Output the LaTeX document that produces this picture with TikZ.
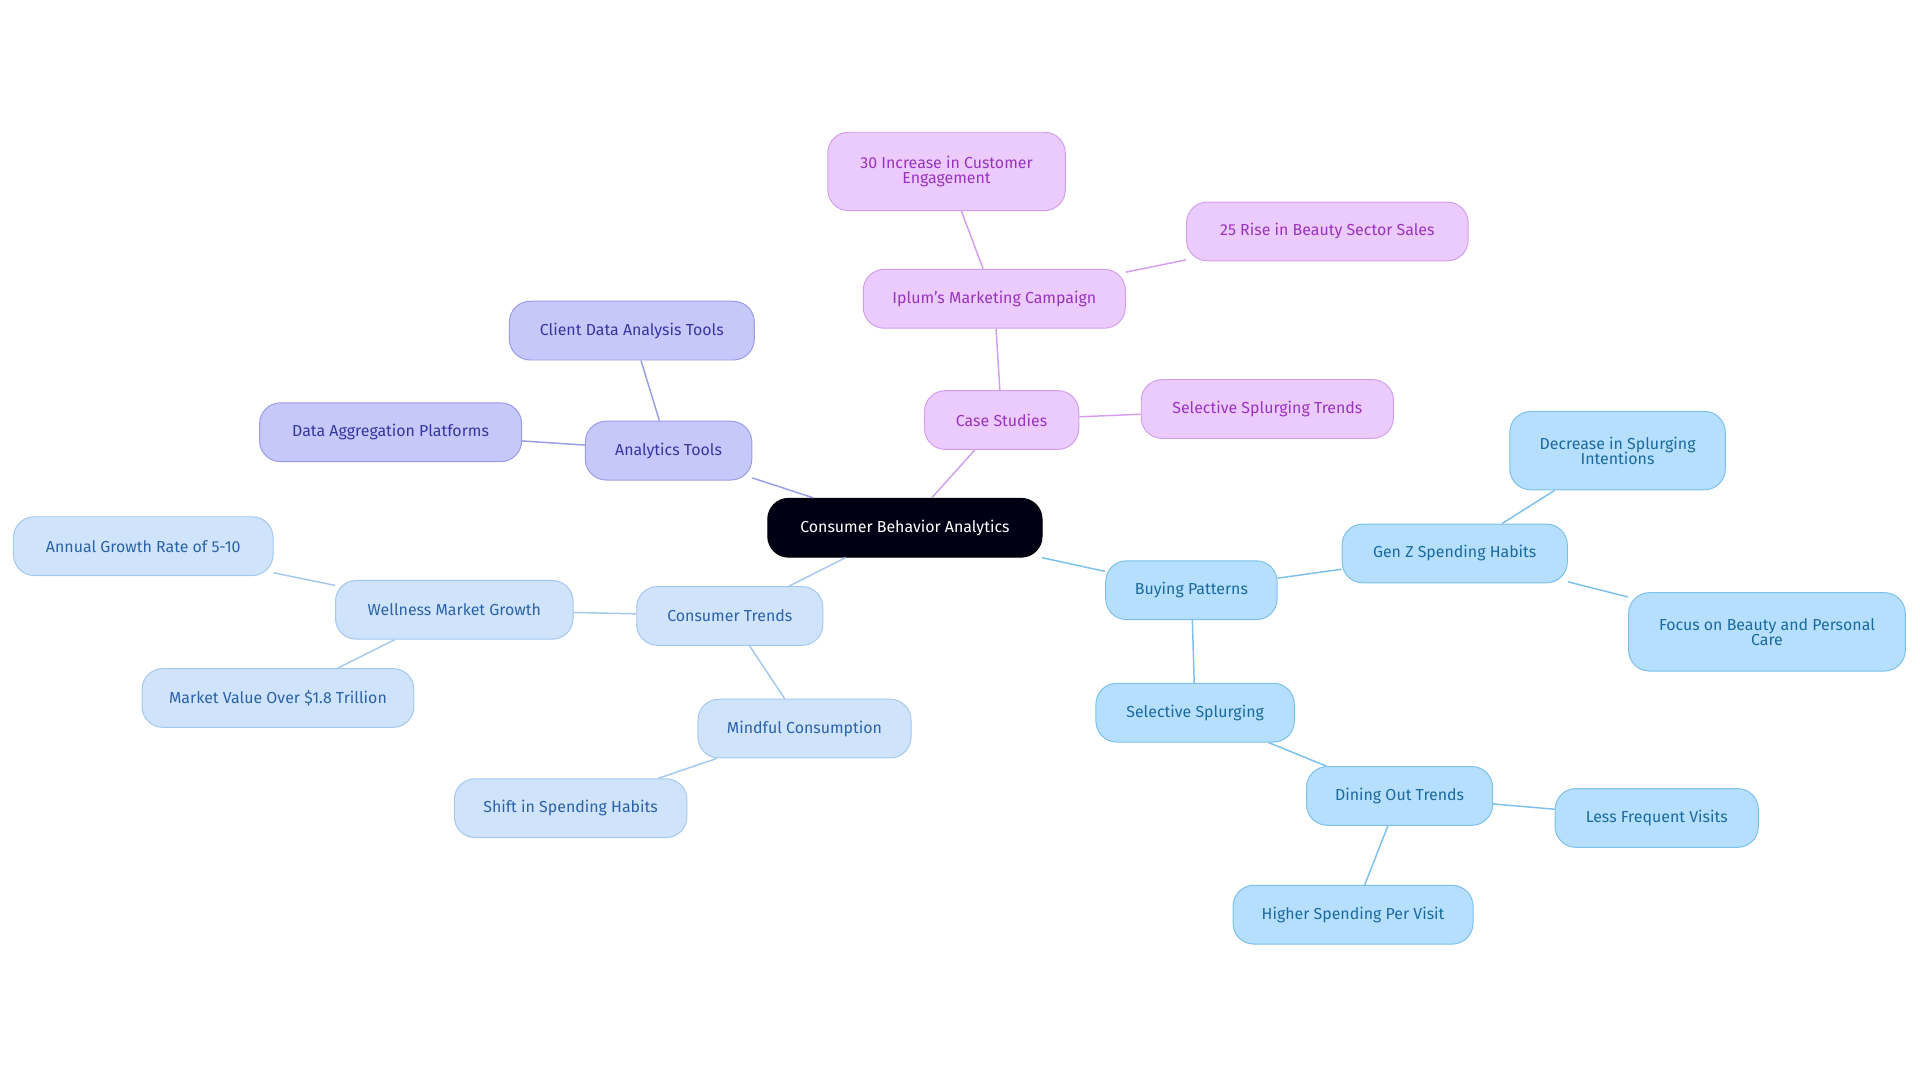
\documentclass[tikz,border=0pt]{standalone}
\usepackage{fontspec}
\setmainfont{Fira Sans}
\begin{document}
\begin{tikzpicture}[x=1pt,y=-1pt,
 base/.style={draw,rounded corners=17pt,minimum height=48pt,align=center,font=\fontsize{13}{13}\selectfont\addfontfeatures{Weight=Light}\ignorespaces,inner sep=0pt,line width=0.8pt},
 cen/.style={base,fill=black!92!blue,draw=black,text=white},
 lav/.style={base,fill=lavf,draw=lavd,text=lavt},
 pur/.style={base,fill=purf,draw=purd,text=purt},
 lb/.style={base,fill=lbf,draw=lbd,text=lbt},
 sb/.style={base,fill=sbf,draw=sbd,text=sbt},
 e/.style={line width=1.2pt}]
\definecolor{lavf}{HTML}{C6C8FA}\definecolor{lavd}{HTML}{9C9CE6}\definecolor{lavt}{HTML}{3436A0}
\definecolor{purf}{HTML}{EBCBFB}\definecolor{purd}{HTML}{D49EF0}\definecolor{purt}{HTML}{9A32C0}
\definecolor{lbf}{HTML}{CFE3FB}\definecolor{lbd}{HTML}{A4C8EE}\definecolor{lbt}{HTML}{2A62A8}
\definecolor{sbf}{HTML}{B5DFFC}\definecolor{sbd}{HTML}{7CC0EC}\definecolor{sbt}{HTML}{1A6AA0}
\useasboundingbox (0,0) rectangle (1568,884);
\node[cen,minimum width=224pt] (c) at (739,431) {Consumer Behavior Analytics};
\node[lav,minimum width=136pt] (at) at (546,368) {Analytics Tools};
\node[lav,minimum width=200pt] (cd) at (516,270) {Client Data Analysis Tools};
\node[lav,minimum width=214pt] (da) at (319,353) {Data Aggregation Platforms};
\node[pur,minimum width=126pt] (cs) at (818,343) {Case Studies};
\node[pur,minimum width=214pt] (ip) at (812,244) {Iplum's Marketing Campaign};
\node[pur,minimum width=194pt,minimum height=64pt] (ic) at (773,140) {30 Increase in Customer\\[-1pt]Engagement};
\node[pur,minimum width=230pt] (rb) at (1084,189) {25 Rise in Beauty Sector Sales};
\node[pur,minimum width=206pt] (st) at (1035,334) {Selective Splurging Trends};
\node[lb,minimum width=152pt] (ct) at (596,503) {Consumer Trends};
\node[lb,minimum width=194pt] (wm) at (371,498) {Wellness Market Growth};
\node[lb,minimum width=212pt] (ag) at (117,446) {Annual Growth Rate of 5-10};
\node[lb,minimum width=222pt] (mv) at (227,570) {Market Value Over \$1.8 Trillion};
\node[lb,minimum width=174pt] (mc) at (657,595) {Mindful Consumption};
\node[lb,minimum width=190pt] (ss) at (466,660) {Shift in Spending Habits};
\node[sb,minimum width=140pt] (bp) at (973,482) {Buying Patterns};
\node[sb,minimum width=184pt] (gz) at (1188,452) {Gen Z Spending Habits};
\node[sb,minimum width=176pt,minimum height=64pt] (dsi) at (1321,368) {Decrease in Splurging\\[-1pt]Intentions};
\node[sb,minimum width=226pt,minimum height=64pt] (fb) at (1443,516) {Focus on Beauty and Personal\\[-1pt]Care};
\node[sb,minimum width=162pt] (sp) at (976,582) {Selective Splurging};
\node[sb,minimum width=152pt] (do) at (1143,650) {Dining Out Trends};
\node[sb,minimum width=166pt] (lf) at (1353,668) {Less Frequent Visits};
\node[sb,minimum width=196pt] (hs) at (1105,747) {Higher Spending Per Visit};
\begin{scope}[on background layer/.style={}]
\end{scope}
\draw[e,lavd] (c)--(at) (at)--(cd) (at)--(da);
\draw[e,purd] (c)--(cs) (cs)--(ip) (ip)--(ic) (ip)--(rb) (cs)--(st);
\draw[e,lbd] (c)--(ct) (ct)--(wm) (wm)--(ag) (wm)--(mv) (ct)--(mc) (mc)--(ss);
\draw[e,sbd] (c)--(bp) (bp)--(gz) (gz)--(dsi) (gz)--(fb) (bp)--(sp) (sp)--(do) (do)--(lf) (do)--(hs);
\end{tikzpicture}
\end{document}
